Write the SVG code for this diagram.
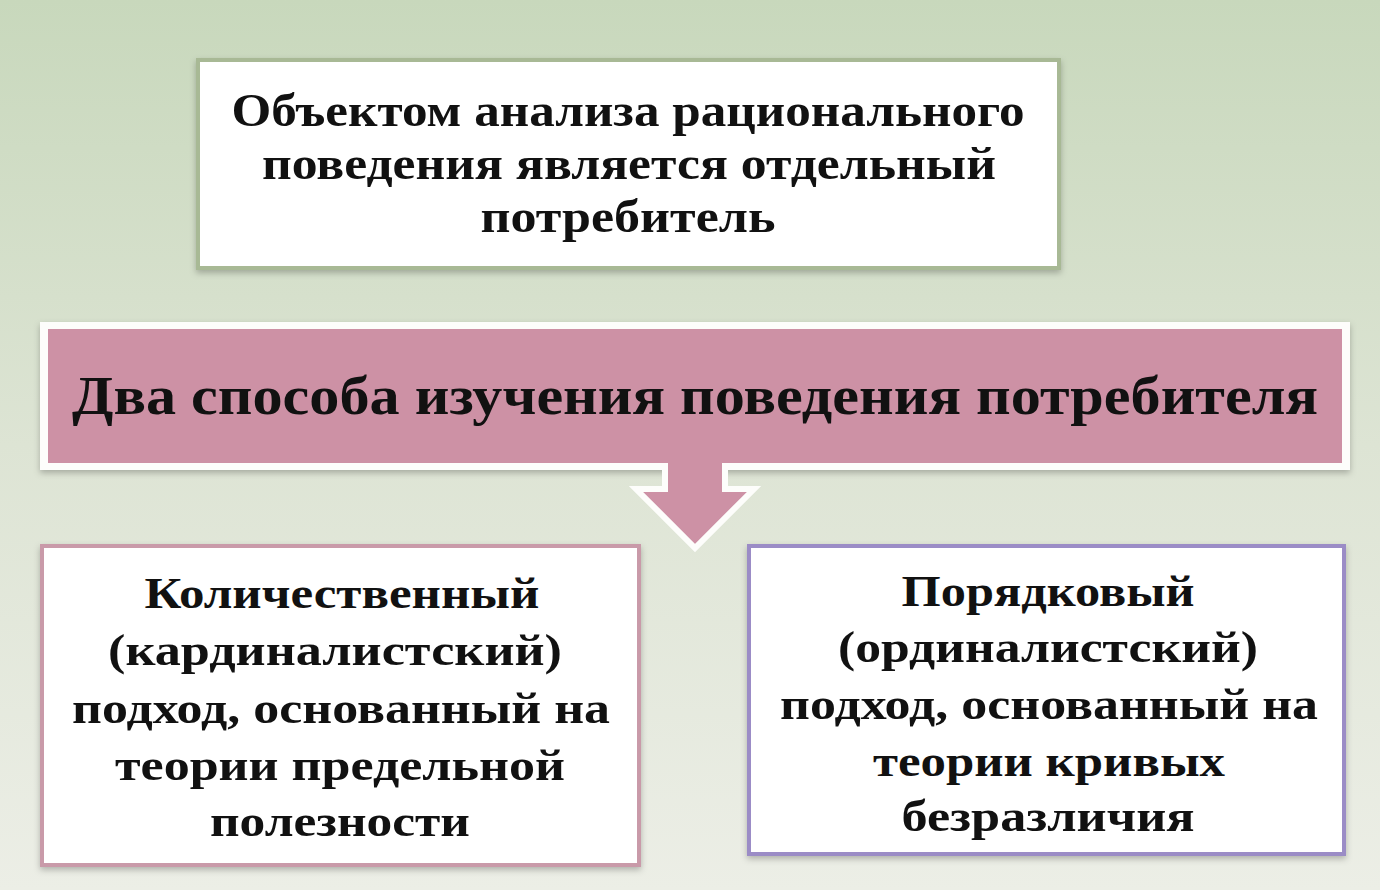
<svg xmlns="http://www.w3.org/2000/svg" width="1380" height="890" viewBox="0 0 1380 890">
<defs>
<linearGradient id="bg" x1="0" y1="0" x2="0" y2="1">
<stop offset="0" stop-color="#c8d8bc"/>
<stop offset="0.5" stop-color="#dde4d4"/>
<stop offset="1" stop-color="#eceee6"/>
</linearGradient>
<filter id="sh" x="-5%" y="-10%" width="110%" height="125%">
<feDropShadow dx="0" dy="3" stdDeviation="3" flood-color="#000" flood-opacity="0.25"/>
</filter>
<style>
text{font-family:"Liberation Serif","DejaVu Serif",serif;font-weight:bold;fill:#111;text-anchor:middle}
.t{font-size:45px}
.u{font-size:47px}
.b{font-size:55px}
.box{fill:#fff;stroke-width:4}
</style>
</defs>
<rect x="0" y="0" width="1380" height="890" fill="url(#bg)"/>
<g id="object">
<rect class="box" x="198" y="60" width="861" height="208" stroke="#a8b995" filter="url(#sh)"/>
<text class="u" x="628" y="126" textLength="793" lengthAdjust="spacingAndGlyphs">Объектом анализа рационального</text>
<text class="u" x="629" y="179" textLength="734" lengthAdjust="spacingAndGlyphs">поведения является  отдельный</text>
<text class="u" x="628" y="232" textLength="295" lengthAdjust="spacingAndGlyphs">потребитель</text>
</g>
<g id="banner">
<rect x="40" y="322" width="1310" height="148" fill="#fdfdfb" filter="url(#sh)"/>
<rect x="48" y="329" width="1294" height="134" fill="#cd91a5"/>
<text class="b" x="695" y="414" textLength="1246" lengthAdjust="spacingAndGlyphs">Два способа изучения поведения потребителя</text>
</g>
<g id="connectors">
<path d="M665,463 L665,489 L636,489 L695,548 L754,489 L725,489 L725,463" fill="#cd91a5" stroke="#fdfdfb" stroke-width="6" stroke-linejoin="miter"/>
<rect x="668" y="459" width="54" height="6" fill="#cd91a5"/>
</g>
<g id="cardinal">
<rect class="box" x="42" y="546" width="597" height="319" stroke="#c99aa9" filter="url(#sh)"/>
<text class="t" x="342" y="608" textLength="395" lengthAdjust="spacingAndGlyphs">Количественный</text>
<text class="t" x="335" y="665" textLength="454" lengthAdjust="spacingAndGlyphs">(кардиналистский)</text>
<text class="t" x="341" y="723" textLength="538" lengthAdjust="spacingAndGlyphs">подход, основанный на</text>
<text class="t" x="340" y="780" textLength="450" lengthAdjust="spacingAndGlyphs">теории предельной</text>
<text class="t" x="340" y="836" textLength="260" lengthAdjust="spacingAndGlyphs">полезности</text>
</g>
<g id="ordinal">
<rect class="box" x="749" y="546" width="595" height="308" stroke="#9b8cc6" filter="url(#sh)"/>
<text class="t" x="1048" y="606" textLength="293" lengthAdjust="spacingAndGlyphs">Порядковый</text>
<text class="t" x="1048" y="662" textLength="420" lengthAdjust="spacingAndGlyphs">(ординалистский)</text>
<text class="t" x="1049" y="719" textLength="538" lengthAdjust="spacingAndGlyphs">подход, основанный на</text>
<text class="t" x="1049" y="776" textLength="352" lengthAdjust="spacingAndGlyphs">теории кривых</text>
<text class="t" x="1048" y="831" textLength="293" lengthAdjust="spacingAndGlyphs">безразличия</text>
</g>
</svg>
